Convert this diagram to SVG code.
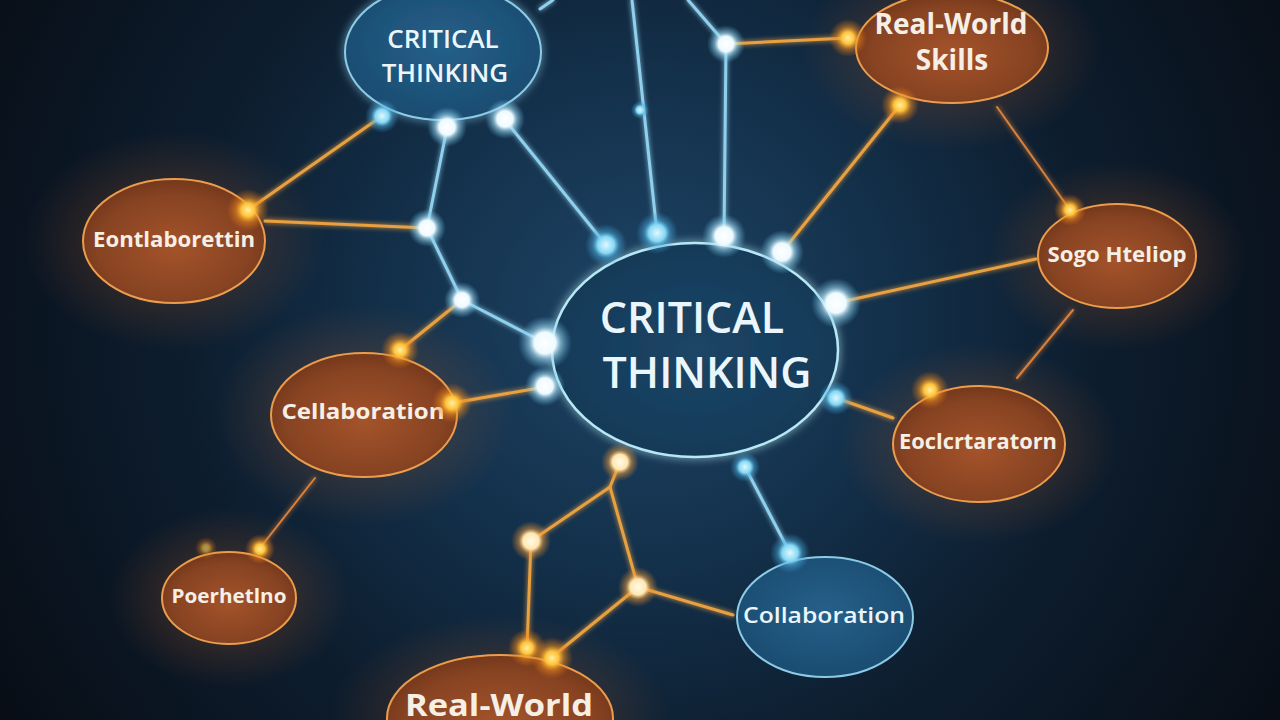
<svg xmlns="http://www.w3.org/2000/svg" width="1280" height="720" viewBox="0 0 1280 720">
<defs>
<radialGradient id="bg" cx="640" cy="320" r="760" gradientUnits="userSpaceOnUse">
<stop offset="0" stop-color="#1e4566"/>
<stop offset="0.3" stop-color="#14324d"/>
<stop offset="0.6" stop-color="#0d1d2e"/>
<stop offset="1" stop-color="#080d15"/>
</radialGradient>
<radialGradient id="orangeFill" cx="0.5" cy="0.55" r="0.6">
<stop offset="0" stop-color="#a4532a"/>
<stop offset="0.7" stop-color="#874322"/>
<stop offset="1" stop-color="#6c3419"/>
</radialGradient>
<radialGradient id="blueFill" cx="0.5" cy="0.45" r="0.6">
<stop offset="0" stop-color="#25608a"/>
<stop offset="1" stop-color="#1a4a6e"/>
</radialGradient>
<radialGradient id="centerFill" cx="0.5" cy="0.5" r="0.6">
<stop offset="0" stop-color="#1c4566"/>
<stop offset="1" stop-color="#153855"/>
</radialGradient>
<radialGradient id="warmHalo">
<stop offset="0" stop-color="#d46a28" stop-opacity="0.35"/>
<stop offset="1" stop-color="#d46a28" stop-opacity="0"/>
</radialGradient>
<radialGradient id="dotWhite">
<stop offset="0" stop-color="#ffffff"/>
<stop offset="0.4" stop-color="#eefaff"/>
<stop offset="0.6" stop-color="#a8e0f6" stop-opacity="0.6"/>
<stop offset="1" stop-color="#5fb6e0" stop-opacity="0"/>
</radialGradient>
<radialGradient id="dotBlue">
<stop offset="0" stop-color="#e0f8ff"/>
<stop offset="0.4" stop-color="#86d8f4"/>
<stop offset="0.62" stop-color="#4fb0e0" stop-opacity="0.5"/>
<stop offset="1" stop-color="#3a9ad0" stop-opacity="0"/>
</radialGradient>
<radialGradient id="dotOrange">
<stop offset="0" stop-color="#fff0a0"/>
<stop offset="0.32" stop-color="#ffc23a"/>
<stop offset="0.6" stop-color="#f09020" stop-opacity="0.5"/>
<stop offset="1" stop-color="#e07010" stop-opacity="0"/>
</radialGradient>
<radialGradient id="dotCream">
<stop offset="0" stop-color="#fffbe8"/>
<stop offset="0.4" stop-color="#ffe7b0"/>
<stop offset="0.62" stop-color="#f0a040" stop-opacity="0.5"/>
<stop offset="1" stop-color="#e08020" stop-opacity="0"/>
</radialGradient>
<filter id="soft" x="-50%" y="-50%" width="200%" height="200%">
<feGaussianBlur in="SourceGraphic" stdDeviation="2.5" result="b"/>
<feMerge><feMergeNode in="b"/><feMergeNode in="SourceGraphic"/></feMerge>
</filter>
<filter id="rim" x="-20%" y="-20%" width="140%" height="140%">
<feGaussianBlur in="SourceGraphic" stdDeviation="4" result="b"/>
<feMerge><feMergeNode in="b"/><feMergeNode in="SourceGraphic"/></feMerge>
</filter>
</defs>
<style>
.blue { stroke:#8fd0ec; stroke-width:3; fill:none; stroke-linecap:round; }
.orng { stroke:#e8a040; stroke-width:3; fill:none; stroke-linecap:round; }
.thin { stroke:#d8803a; stroke-width:2; fill:none; stroke-linecap:round; }
.onode { fill:url(#orangeFill); stroke:#eb9c4c; stroke-width:2; }
.bnode { fill:url(#blueFill); stroke:#8ccbe6; stroke-width:2; }
.lbl { font-family:"Open Sans","Noto Sans","Liberation Sans",sans-serif; font-weight:700; fill:#f6efe6; text-anchor:middle; }
.blbl { font-family:"Open Sans","Noto Sans","Liberation Sans",sans-serif; font-weight:600; fill:#eaf6fb; text-anchor:middle; }
</style>

<rect width="1280" height="720" fill="url(#bg)"/>
<ellipse cx="174" cy="241" rx="150" ry="110" fill="url(#warmHalo)"/>
<ellipse cx="364" cy="415" rx="150" ry="110" fill="url(#warmHalo)"/>
<ellipse cx="229" cy="598" rx="120" ry="90" fill="url(#warmHalo)"/>
<ellipse cx="500" cy="715" rx="170" ry="100" fill="url(#warmHalo)"/>
<ellipse cx="952" cy="50" rx="150" ry="100" fill="url(#warmHalo)"/>
<ellipse cx="1117" cy="256" rx="130" ry="95" fill="url(#warmHalo)"/>
<ellipse cx="979" cy="444" rx="140" ry="100" fill="url(#warmHalo)"/>

<g id="connectors" filter="url(#soft)">
<line class="blue" x1="447" y1="128" x2="427" y2="228"/>
<line class="blue" x1="427" y1="228" x2="462" y2="300"/>
<line class="blue" x1="462" y1="300" x2="545" y2="343"/>
<line class="blue" x1="505" y1="120" x2="606" y2="245"/>
<line class="blue" x1="632" y1="0" x2="657" y2="233"/>
<line class="blue" x1="540" y1="9" x2="553" y2="0"/>
<line class="blue" x1="688" y1="0" x2="726" y2="44"/>
<line class="blue" x1="726" y1="44" x2="724" y2="236"/>
<line class="blue" x1="745" y1="467" x2="790" y2="553"/>
<line class="orng" x1="382" y1="116" x2="248" y2="210" stroke="#d8b080"/>
<line class="orng" x1="265" y1="221" x2="427" y2="228" stroke="#e0b890"/>
<line class="orng" x1="726" y1="44" x2="848" y2="38" stroke="#e8c090"/>
<line class="orng" x1="900" y1="105" x2="782" y2="252"/>
<line class="orng" x1="836" y1="303" x2="1036" y2="259"/>
<line class="orng" x1="462" y1="300" x2="400" y2="350"/>
<line class="orng" x1="452" y1="403" x2="545" y2="387"/>
<line class="orng" x1="836" y1="398" x2="893" y2="418"/>
<line class="orng" x1="620" y1="462" x2="610" y2="487"/>
<line class="orng" x1="610" y1="487" x2="531" y2="541"/>
<line class="orng" x1="610" y1="487" x2="638" y2="587"/>
<line class="orng" x1="531" y1="541" x2="527" y2="648"/>
<line class="orng" x1="638" y1="587" x2="552" y2="657"/>
<line class="orng" x1="638" y1="587" x2="733" y2="615" stroke="#c8c8c0"/>
<line class="thin" x1="997" y1="107" x2="1070" y2="210"/>
<line class="thin" x1="1073" y1="310" x2="1017" y2="378"/>
<line class="thin" x1="315" y1="478" x2="260" y2="548"/>
</g>

<g id="node-top-critical">
<ellipse class="bnode" cx="443" cy="52" rx="98" ry="68" filter="url(#rim)"/>
<text class="blbl" x="443" y="48" font-size="26">CRITICAL</text>
<text class="blbl" x="445" y="82" font-size="26">THINKING</text>
</g>

<g id="node-center">
<ellipse cx="695" cy="350" rx="143" ry="107" fill="url(#centerFill)" stroke="#b6e8f6" stroke-width="2.5" filter="url(#rim)"/>
<text class="blbl" x="692" y="333" font-size="43">CRITICAL</text>
<text class="blbl" x="707" y="388" font-size="43">THINKING</text>
</g>

<g id="node-realworld-skills">
<ellipse class="onode" cx="952" cy="48" rx="96" ry="55"/>
<text class="lbl" x="951" y="34" font-size="28">Real-World</text>
<text class="lbl" x="952" y="70" font-size="28">Skills</text>
</g>

<g id="node-sogo">
<ellipse class="onode" cx="1117" cy="256" rx="79" ry="52"/>
<text class="lbl" x="1117" y="262" font-size="21" textLength="139" lengthAdjust="spacingAndGlyphs">Sogo Hteliop</text>
</g>

<g id="node-eocl">
<ellipse class="onode" cx="979" cy="444" rx="86" ry="58"/>
<text class="lbl" x="978" y="449" font-size="22" textLength="158" lengthAdjust="spacingAndGlyphs">Eoclcrtaratorn</text>
</g>

<g id="node-eontl">
<ellipse class="onode" cx="174" cy="241" rx="91" ry="62"/>
<text class="lbl" x="174" y="247" font-size="21" textLength="162" lengthAdjust="spacingAndGlyphs">Eontlaborettin</text>
</g>

<g id="node-cellaboration">
<ellipse class="onode" cx="364" cy="415" rx="93" ry="62"/>
<text class="lbl" x="363" y="419" font-size="22" textLength="163" lengthAdjust="spacingAndGlyphs">Cellaboration</text>
</g>

<g id="node-poerhetlno">
<ellipse class="onode" cx="229" cy="598" rx="67" ry="46"/>
<text class="lbl" x="229" y="603" font-size="20" textLength="115" lengthAdjust="spacingAndGlyphs">Poerhetlno</text>
</g>

<g id="node-realworld-bottom">
<ellipse class="onode" cx="500" cy="718" rx="113" ry="63"/>
<text class="lbl" x="499" y="716" font-size="31" textLength="188" lengthAdjust="spacingAndGlyphs">Real-World</text>
</g>

<g id="node-collaboration">
<ellipse class="bnode" cx="825" cy="617" rx="88" ry="60"/>
<text class="blbl" x="824" y="623" font-size="22" textLength="162" lengthAdjust="spacingAndGlyphs">Collaboration</text>
</g>

<g id="dots">
<circle cx="382" cy="116" r="17" fill="url(#dotBlue)"/>
<circle cx="447" cy="127" r="20" fill="url(#dotWhite)"/>
<circle cx="505" cy="119" r="20" fill="url(#dotWhite)"/>
<circle cx="427" cy="228" r="19" fill="url(#dotWhite)"/>
<circle cx="462" cy="300" r="18" fill="url(#dotWhite)"/>
<circle cx="640" cy="110" r="9" fill="url(#dotBlue)"/>
<circle cx="726" cy="44" r="19" fill="url(#dotWhite)"/>
<circle cx="606" cy="245" r="21" fill="url(#dotBlue)"/>
<circle cx="657" cy="233" r="21" fill="url(#dotBlue)"/>
<circle cx="724" cy="236" r="22" fill="url(#dotWhite)"/>
<circle cx="782" cy="252" r="22" fill="url(#dotWhite)"/>
<circle cx="836" cy="303" r="25" fill="url(#dotWhite)"/>
<circle cx="545" cy="343" r="27" fill="url(#dotWhite)"/>
<circle cx="545" cy="386" r="20" fill="url(#dotWhite)"/>
<circle cx="836" cy="398" r="17" fill="url(#dotBlue)"/>
<circle cx="745" cy="467" r="15" fill="url(#dotBlue)"/>
<circle cx="790" cy="553" r="20" fill="url(#dotBlue)"/>
<circle cx="248" cy="210" r="21" fill="url(#dotOrange)"/>
<circle cx="848" cy="38" r="19" fill="url(#dotOrange)"/>
<circle cx="900" cy="105" r="19" fill="url(#dotOrange)"/>
<circle cx="1070" cy="210" r="16" fill="url(#dotOrange)"/>
<circle cx="930" cy="390" r="19" fill="url(#dotOrange)"/>
<circle cx="400" cy="350" r="19" fill="url(#dotOrange)"/>
<circle cx="452" cy="403" r="20" fill="url(#dotOrange)"/>
<circle cx="620" cy="462" r="19" fill="url(#dotCream)"/>
<circle cx="531" cy="541" r="20" fill="url(#dotCream)"/>
<circle cx="638" cy="587" r="20" fill="url(#dotCream)"/>
<circle cx="527" cy="648" r="19" fill="url(#dotOrange)"/>
<circle cx="552" cy="658" r="21" fill="url(#dotOrange)"/>
<circle cx="260" cy="549" r="15" fill="url(#dotOrange)"/>
<circle cx="206" cy="548" r="11" fill="url(#dotOrange)" opacity="0.6"/>
</g>
</svg>
